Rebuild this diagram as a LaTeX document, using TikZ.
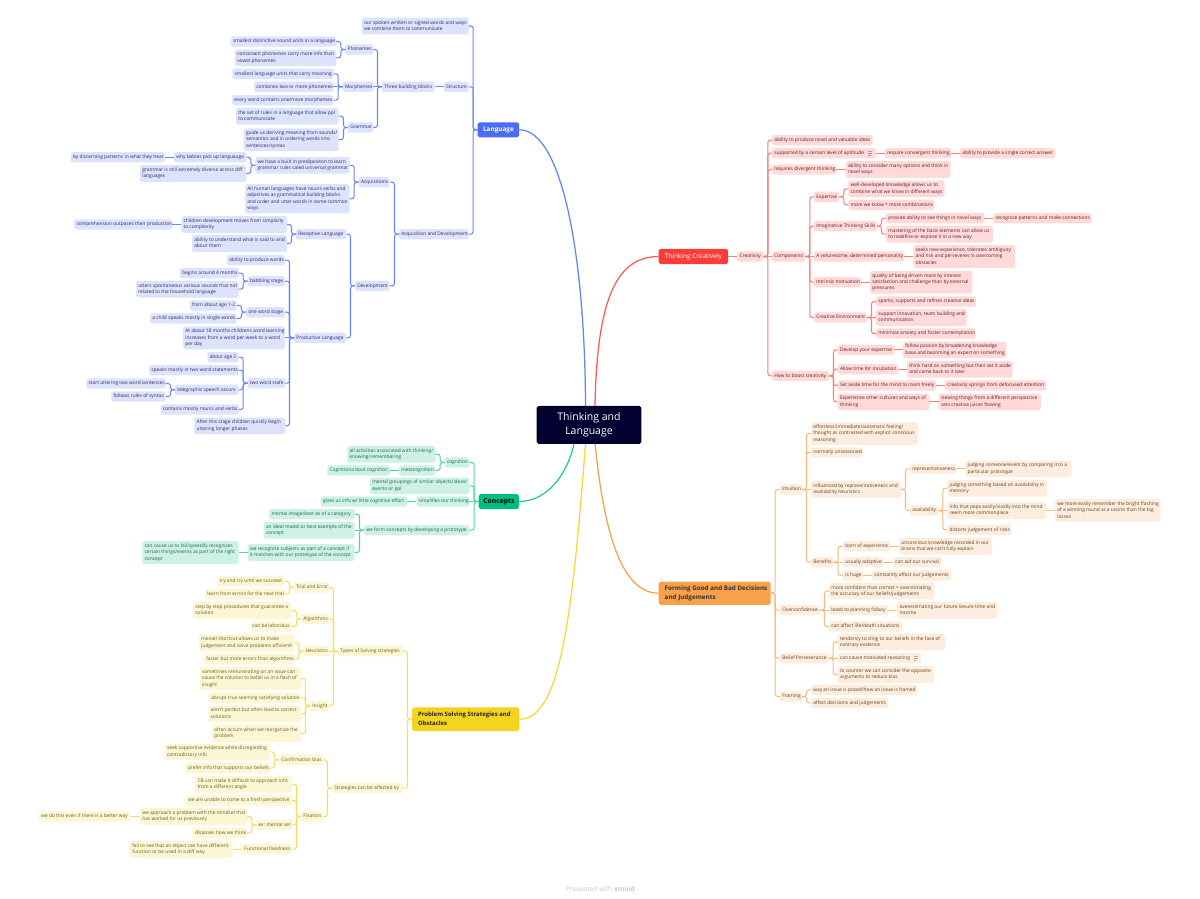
\documentclass[tikz,border=0pt]{standalone}
\usepackage{fontspec}
\setmainfont{Open Sans}
\definecolor{bL}{HTML}{DEE3FC}\definecolor{bT}{HTML}{262A6E}\definecolor{bC}{HTML}{6A86FF}\definecolor{bF}{HTML}{4A6CF7}
\definecolor{rL}{HTML}{FFDAD8}\definecolor{rT}{HTML}{661A1E}\definecolor{rC}{HTML}{FF7B76}\definecolor{rF}{HTML}{FB3D3A}
\definecolor{oL}{HTML}{FDEDDF}\definecolor{oT}{HTML}{63401E}\definecolor{oC}{HTML}{F9BA7C}\definecolor{oF}{HTML}{F8A14B}
\definecolor{yL}{HTML}{FCF6D5}\definecolor{yT}{HTML}{685E1E}\definecolor{yC}{HTML}{F8DC5C}\definecolor{yF}{HTML}{F5D41F}
\definecolor{gL}{HTML}{CDF1E5}\definecolor{gT}{HTML}{1A654E}\definecolor{gC}{HTML}{4FD4A8}\definecolor{gF}{HTML}{00BE7F}
\definecolor{rootF}{HTML}{02002E}
\newdimen\lkA \newdimen\lkB
\newcommand{\setbranch}[1]{\colorlet{cL}{#1L}\colorlet{cT}{#1T}\colorlet{cC}{#1C}}
\newcommand{\mnode}[5]{\node[leaf,anchor=west,minimum width={#3pt-#2pt}] (#1) at (#2,#4)
 {\makebox[\dimexpr #3pt-#2pt-4.6pt\relax][l]{\begin{tabular}{@{}l@{}}#5\end{tabular}}};}
\newcommand{\linkL}[2]{\foreach \cc in {#2}{%
  \pgfextracty{\lkA}{\pgfpointanchor{#1}{west}}\pgfextracty{\lkB}{\pgfpointanchor{\cc}{east}}%
  \advance\lkA by -\lkB
  \ifdim\lkA<0pt \lkA=-\lkA\fi
  \ifdim\lkA<0.5pt \draw[link] (#1.west) -- (\cc.east);\else \draw[link,toL] (#1.west) to (\cc.east);\fi}}
\newcommand{\linkR}[2]{\foreach \cc in {#2}{%
  \pgfextracty{\lkA}{\pgfpointanchor{#1}{east}}\pgfextracty{\lkB}{\pgfpointanchor{\cc}{west}}%
  \advance\lkA by -\lkB
  \ifdim\lkA<0pt \lkA=-\lkA\fi
  \ifdim\lkA<0.5pt \draw[link] (#1.east) -- (\cc.west);\else \draw[link,toR] (#1.east) to (\cc.west);\fi}}
\newcommand{\noteicon}[3]{\draw[#3,line width=.35pt] (#1-2,#2-1.6) -- ++(4,0) (#1-2,#2) -- ++(4,0) (#1-2,#2+1.6) -- ++(2.4,0);}
\tikzset{
 leaf/.style={fill=cL,text=cT,rounded corners=1.8pt,inner xsep=2.3pt,inner ysep=2pt,font=\fontsize{4.85}{6.3}\selectfont,outer sep=0pt},
 link/.style={draw=cC,line width=1.05pt,rounded corners=2.5pt},
 toL/.style={to path={-- ++(-4.5,0) |- (\tikztotarget)}},
 toR/.style={to path={-- ++(4.5,0) |- (\tikztotarget)}},
 main/.style={rounded corners=1.8pt,outer sep=0pt,inner sep=0pt,anchor=west},
 curve/.style={line width=1.25pt},
}
\begin{document}
\begin{tikzpicture}[x=1pt,y=-1pt]
\useasboundingbox (0,-0.5) rectangle (1200,897.5);
% root
\node[main,anchor=center,fill=rootF,text=white,minimum width=104.6pt,minimum height=38pt,align=center,font=\fontsize{10.5}{14}\selectfont] (root) at (589,424.3) {Thinking and\\Language};
\coordinate (rootb) at (585.5,405.3);
\coordinate (rootr) at (595,405.3);
\coordinate (rootg) at (574,443.3);
\coordinate (rooty) at (585.5,443.3);
\coordinate (rooto) at (595,443.3);
% main topics
\node[main,fill=bF,text=white,minimum width=41.5pt,minimum height=15pt,font=\fontsize{6.4}{8}\bfseries\selectfont] (lang) at (477.7,129.3) {\makebox[41.5pt]{Language}};
\node[main,fill=rF,text=white,minimum width=69.3pt,minimum height=15.4pt,font=\fontsize{6.5}{8}\selectfont] (think) at (658.7,256) {\makebox[69.3pt]{Thinking Creatively}};
\node[main,fill=gF,text=black,minimum width=40.3pt,minimum height=15pt,font=\fontsize{6.8}{8}\bfseries\selectfont] (conc) at (478.7,501) {\makebox[40.3pt]{Concepts}};
\node[main,fill=yF,text=black!85,minimum width=107.3pt,minimum height=23.7pt,font=\fontsize{6}{8.3}\selectfont\bfseries,align=left] (prob) at (412,718.8) {\makebox[107.3pt][l]{\hspace{6pt}\begin{tabular}{@{}l@{}}Problem Solving Strategies and\\Obstacles\end{tabular}}};
\node[main,fill=oF,text=black!80,minimum width=112pt,minimum height=23.3pt,font=\fontsize{6.3}{8.3}\selectfont\bfseries,align=left] (form) at (658.7,592.7) {\makebox[112pt][l]{\hspace{6pt}\begin{tabular}{@{}l@{}}Forming Good and Bad Decisions\\and Judgements\end{tabular}}};
% curves
\draw[curve,draw=bC!85!bF] (lang.east) .. controls (562,129) and (585,255) .. (rootb);
\draw[curve,draw=rF!85] (think.west) .. controls (618,256) and (597,295) .. (rootr);
\draw[curve,draw=gF!85] (conc.east) .. controls (548,501) and (568,472) .. (rootg);
\draw[curve,draw=yF!90] (prob.east) .. controls (560,719) and (572,620) .. (rooty);
\draw[curve,draw=oF] (form.west) .. controls (618,592.7) and (603,520) .. (rooto);
% ---------- Language
\setbranch{b}
\mnode{spoken}{361.7}{468.7}{25.5}{our spoken written or signed words and ways\\we combine them to communicate}
\mnode{struct}{443.7}{468.7}{86.3}{Structure}
\mnode{three}{382}{434.7}{86.3}{Three building blocks}
\mnode{phon}{345.3}{373.3}{49}{Phonemes}
\mnode{morph}{342.7}{373.3}{86.3}{Morphemes}
\mnode{gram}{348}{373.3}{127}{Grammar}
\mnode{phA}{230.7}{336}{41}{smallest distinctive sound units in a language}
\mnode{phB}{235}{336}{57.3}{consonant phonemes carry more info than\\vowel phonemes}
\mnode{moA}{232.3}{333.3}{73.3}{smallest language units that carry meaning}
\mnode{moB}{254}{333.3}{86.3}{combines two or more phonemes}
\mnode{moC}{232}{333.3}{99.7}{every word contains one/more morphemes}
\mnode{grA}{236}{338.7}{115.7}{the set of rules in a language that allow ppl\\to communicate}
\mnode{grB}{243.7}{338.7}{139.2}{guide us deriving meaning from sounds/\\semantics and in ordering words into\\sentences/syntax}
\mnode{discern}{70.7}{164.7}{156.7}{by discerning patterns in what they hear}
\mnode{babies}{174}{246.3}{156.7}{why babies pick up languauge}
\mnode{diverse}{140}{246.3}{173}{grammar is still extremely diverse across diff\\languages}
\mnode{built}{255.3}{349.7}{164.8}{we have a built in predipositon to learn\\grammar rules caled universal grammar}
\mnode{human}{245}{349.7}{198.3}{All human languages have nouns verbs and\\adjectives as grammatical building blocks\\and order and utter words in some common\\ways}
\mnode{acqs}{358.7}{389.3}{181.7}{Acquisitions}
\mnode{acqdev}{399}{468.7}{233.7}{Acquisition and Development}
\mnode{compr}{74.3}{172.3}{224}{comprehension outpaces their production}
\mnode{simpl}{181.3}{287}{224}{children development moves from simplicity\\to complexity}
\mnode{recep}{296}{346.3}{233.7}{Receptive Language}
\mnode{under}{192}{287}{243}{ability to understand what is said to and\\about them}
\mnode{dev}{355}{389.3}{285.3}{Development}
\mnode{prod}{294}{346.3}{337.3}{Productive Language}
\mnode{abil}{227}{285}{259.7}{ability to produce words}
\mnode{babb}{247.7}{285}{280.7}{babbling stage}
\mnode{begin}{180}{238.7}{272.7}{begins around 4 months}
\mnode{utter}{136}{238.7}{288.7}{utters spontaneous various sounds that not\\related to the household language}
\mnode{onew}{246}{285}{311.7}{one word stage}
\mnode{from}{189.7}{236.7}{305}{from about age 1-2}
\mnode{achild}{150}{236.7}{318}{a child speaks mostly in single words}
\mnode{eight}{183}{285}{337.3}{At about 18 months childrens word learning\\increases from a word per week to a word\\per day}
\mnode{twow}{247.7}{285}{382.7}{two word stafe}
\mnode{age}{207.3}{238.7}{356.7}{about age 2}
\mnode{speak}{149}{238.7}{369.7}{speaks mostly in two word statements}
\mnode{tele}{175}{238.7}{389.3}{telegraphic speech occurs}
\mnode{start}{86.3}{165.7}{383}{start uttering two word sentences}
\mnode{follow}{111.3}{165.7}{396}{follows rules of syntax}
\mnode{nouns}{160.7}{238.7}{409}{contains mostly nouns and verbs}
\mnode{after}{194.3}{285}{425.3}{After this stage children quickly begin\\uttering longer phases}
\linkL{lang}{spoken,struct,acqdev}
\linkL{struct}{three}
\linkL{three}{phon,morph,gram}
\linkL{phon}{phA,phB}
\linkL{morph}{moA,moB,moC}
\linkL{gram}{grA,grB}
\linkL{acqdev}{acqs,dev}
\linkL{acqs}{built,human}
\linkL{built}{babies,diverse}
\linkL{babies}{discern}
\linkL{dev}{recep,prod}
\linkL{recep}{simpl,under}
\linkL{simpl}{compr}
\linkL{prod}{abil,babb,onew,eight,twow,after}
\linkL{babb}{begin,utter}
\linkL{onew}{from,achild}
\linkL{twow}{age,speak,tele,nouns}
\linkL{tele}{start,follow}
% ---------- Concepts
\setbranch{g}
\mnode{cogn}{444.7}{469.3}{462}{cognition}
\mnode{allact}{347.3}{435.3}{453.8}{all activities associated with thinking/\\knowing/remembering}
\mnode{meta}{399}{435.3}{470}{metacognition}
\mnode{bout}{327.3}{390}{470}{Cognitiona bout cognition}
\mnode{mental}{370}{469.3}{485.3}{mental groupings of similar objects/ideas/\\events or ppl}
\mnode{simp}{416.3}{469.3}{501}{simplifies our thinking}
\mnode{gives}{320.7}{407}{501}{gives us info w/ little cognitive effort}
\mnode{proto}{364}{469.3}{529.7}{we form concepts by developing a prototype}
\mnode{image}{269.3}{354.7}{513.7}{mental image/best ex of a category}
\mnode{ideal}{263.7}{354.7}{529.7}{an ideal model or best example of the\\concept}
\mnode{recog}{247.7}{354.7}{552}{we recognize subjects as part of a concept if\\it matches with our prototype of the concept}
\mnode{fail}{142.3}{238.7}{552}{can cause us to fail/speedily recognizes\\certain things/events as part of the right\\concept}
\linkL{conc}{cogn,mental,simp,proto}
\linkL{cogn}{allact,meta}
\linkL{meta}{bout}
\linkL{simp}{gives}
\linkL{proto}{image,ideal,recog}
\linkL{recog}{fail}
% ---------- Problem solving
\setbranch{y}
\mnode{types}{338}{403}{650.7}{Types of Solving strategies}
\mnode{trial}{293.7}{329}{587}{Trial and Error}
\mnode{tryA}{217.3}{284.3}{580.7}{try and try until we succeed}
\mnode{tryB}{205}{284.3}{593.7}{learn from errors for the next trial}
\mnode{algo}{301}{329}{618.3}{Algorithms}
\mnode{alA}{193}{291.7}{610}{step by step procedures that guarantee a\\solution}
\mnode{alB}{250}{291.7}{626}{can be laborious}
\mnode{heur}{303.3}{329}{650.7}{Heuristics}
\mnode{heA}{199}{294.3}{642.3}{menatl shortcut-allows us to make\\judgement and solve problems efficienlt}
\mnode{heB}{204}{294.3}{658.7}{faster but more errors than algorithms}
\mnode{insi}{310}{329}{705.3}{Insight}
\mnode{inA}{199.7}{301}{678}{sometimes remunerating on an issue can\\cause the solution to befall us in a flash of\\insight}
\mnode{inB}{209}{301}{697.3}{abrupt true seeming satisfying solution}
\mnode{inC}{208.3}{301}{713.3}{aren't perfect but often lead to correct\\solutions}
\mnode{inD}{212}{301}{733}{often occurs when we reorganize the\\problem}
\mnode{strat}{332}{403}{787.7}{Strategies can be affected by}
\mnode{conf}{279}{323}{759.3}{Confirmation bias}
\mnode{coA}{164.7}{270}{751.3}{seek supportive evidence while disregarding\\contradictory info}
\mnode{coB}{185.7}{270}{767.7}{prefer info that supports our beliefs}
\mnode{fixa}{301}{323}{816}{Fixation}
\mnode{fiA}{195.3}{292}{783.7}{CB can make it difficult to approach info\\from a different angle}
\mnode{fiB}{185.7}{292}{800}{we are unable to come to a fresh perspective}
\mnode{exm}{256.3}{292}{824.3}{ex: mental set}
\mnode{exA}{140}{247}{816}{we approach a problem with the mindset that\\has worked for us previously}
\mnode{exB}{39}{130.7}{816}{we do this even if there is a better way}
\mnode{exC}{192.7}{247}{832.3}{disposes how we think}
\mnode{func}{242}{292}{848.7}{Functional fixedness}
\mnode{fuA}{130}{232.7}{848.7}{fail to see that an object can have different\\function or be used in a diff way}
\linkL{prob}{types,strat}
\linkL{types}{trial,algo,heur,insi}
\linkL{trial}{tryA,tryB}
\linkL{algo}{alA,alB}
\linkL{heur}{heA,heB}
\linkL{insi}{inA,inB,inC,inD}
\linkL{strat}{conf,fixa}
\linkL{conf}{coA,coB}
\linkL{fixa}{fiA,fiB,exm,func}
\linkL{exm}{exA,exC}
\linkL{exA}{exB}
\linkL{func}{fuA}
% ---------- Thinking Creatively
\setbranch{r}
\mnode{crea}{737.3}{763.3}{256}{Creativity}
\mnode{novel}{772}{872.7}{139.7}{ability to produce novel and valuable ideas}
\mnode{supp}{772}{876}{152.7}{supported by a certain level of aptitiude}
\noteicon{870.3}{152.7}{rT!45}
\mnode{conv}{885}{951}{152.7}{require convergent thinking}
\mnode{single}{960}{1055.3}{152.7}{ability to provide a single correct answer}
\mnode{diver}{772}{836.3}{169}{requires divergent thinking}
\mnode{many}{845.7}{950.7}{169}{ability to consider many options and think in\\novel ways}
\mnode{comp}{772}{805.3}{256}{Components}
\mnode{expe}{814}{839.3}{196.3}{Expertise}
\mnode{wellk}{848.3}{944.7}{188.3}{well-developed knowledge allows us to\\combine what we know in different ways}
\mnode{moreK}{848.3}{934.3}{204.3}{more we know = more combinations}
\mnode{imag}{814}{877}{225.7}{Imaginative Thinking Skills}
\mnode{prov}{886}{984.3}{217.7}{provide ability to see things in novel ways}
\mnode{patt}{993.3}{1091.7}{217.7}{recognize patterns and make connections}
\mnode{mast}{886}{993}{233.7}{mastering of the basic elements can allow us\\to redefine or explore it in a new way}
\mnode{vent}{814}{904.3}{256}{A veturesome, determined personality}
\mnode{seek}{913.3}{1015}{256}{seeks new experience, tolerates ambiguity\\and risk and perseveres in overcoming\\obstacles}
\mnode{intr}{814}{861}{281.7}{Intrinsic motivation}
\mnode{qual}{870}{972.3}{281.7}{quality of being driven more by interest\\satisfaction and challenge than by external\\pressures}
\mnode{envi}{814}{867}{317}{Creative Environment}
\mnode{spark}{876}{976}{301}{sparks, supports and refines creative ideas}
\mnode{innov}{876}{966.7}{317}{support innovation, team building and\\communication}
\mnode{minim}{876}{975.7}{333}{minimize anxiety and foster contemplation}
\mnode{boost}{772}{829}{375.3}{How to boost creativity}
\mnode{devel}{837.7}{894}{349.3}{Develop your expertise}
\mnode{passi}{903}{1006.3}{349.3}{follow passion by broadening knowledge\\base and becoming an expert on something}
\mnode{allow}{837.7}{898}{368.7}{Allow time for incubation}
\mnode{hard}{907}{1012.7}{368.7}{think hard on something but then set it aside\\and come back to it later}
\mnode{aside}{837.7}{936}{385}{Set aside time for the mind to roam freely}
\mnode{defoc}{945}{1046}{385}{creativity springs from defocused attention}
\mnode{exper}{837.7}{929.3}{401.3}{Experience other cultures and ways of\\thinking}
\mnode{viewi}{938.7}{1041}{401.3}{viewing things from a different perspective\\sets creative juices flowing}
\linkR{think}{crea}
\linkR{crea}{novel,supp,diver,comp,boost}
\linkR{supp}{conv}
\linkR{conv}{single}
\linkR{diver}{many}
\linkR{comp}{expe,imag,vent,intr,envi}
\linkR{expe}{wellk,moreK}
\linkR{imag}{prov,mast}
\linkR{prov}{patt}
\linkR{vent}{seek}
\linkR{intr}{qual}
\linkR{envi}{spark,innov,minim}
\linkR{boost}{devel,allow,aside,exper}
\linkR{devel}{passi}
\linkR{allow}{hard}
\linkR{aside}{defoc}
\linkR{exper}{viewi}
% ---------- Forming
\setbranch{o}
\mnode{intu}{779.7}{802}{489}{Intuition}
\mnode{effo}{811}{918}{433}{effortless/immediate/automatic feeling/\\thought as contrasted with explicit conscious\\reasoning}
\mnode{unre}{811}{862.3}{452}{normally unreasoned}
\mnode{infl}{811}{901}{489}{influenced by representativeness and\\availability heuristics}
\mnode{repr}{910}{956.3}{468.3}{representativeness}
\mnode{judA}{965.3}{1071.7}{468.3}{judging someone/event by comparing it to a\\particular prototype}
\mnode{avai}{910}{938.3}{510}{availability}
\mnode{judB}{947.3}{1047}{487.7}{judging something based on availability in\\memory}
\mnode{pops}{947.3}{1046}{510}{info that pops easily/vividly into the mind\\seem more commonplace}
\mnode{casi}{1055}{1160.7}{510}{we more easily remember the bright flashing\\of a winning round at a casino than the big\\losses}
\mnode{dist}{947.3}{1011}{529.3}{distorts judgement of risks}
\mnode{bene}{811}{833.7}{561.7}{Benefits}
\mnode{born}{843}{890}{545.7}{born of experience}
\mnode{unco}{899}{992}{545.7}{unconcious knowledge recorded in our\\brains that we can't fully explain}
\mnode{adap}{843}{883.7}{561.7}{usually adaptive}
\mnode{aid}{893}{941}{561.7}{can aid our survival}
\mnode{huge}{843}{862.7}{575}{is huge}
\mnode{cons}{872}{951}{575}{constantly affect our judgements}
\mnode{over}{780}{820}{609.7}{Overconfidence}
\mnode{ovA}{829}{934.3}{590.5}{more confident than correct = overstimating\\the accuracy of our beliefs/judgements}
\mnode{ovB}{829}{888.3}{609.7}{leads to planning fallacy}
\mnode{ovC}{897.3}{997.3}{609.7}{overestimating our future liesure time and\\income}
\mnode{ovD}{829}{902}{626}{can affect life/death situations}
\mnode{beli}{780}{828.7}{657.7}{Belief Perseverance}
\mnode{beA}{837.7}{945.3}{641.5}{tendency to cling to our beliefs in the face of\\contrary evidence}
\mnode{beB}{837.7}{921}{657.7}{can cause motivated reasoning}
\noteicon{916}{657.7}{oT!45}
\mnode{beC}{837.7}{934}{674}{to counter we can consider the opposite\\arguments to reduce bias}
\mnode{fram}{780}{802}{696}{Framing}
\mnode{frA}{811}{917.7}{689.3}{way an issue is posed/how an issue is framed}
\mnode{frB}{811}{888.7}{702.3}{affect decisions and judgements}
\linkR{form}{intu,over,beli,fram}
\linkR{intu}{effo,unre,infl,bene}
\linkR{infl}{repr,avai}
\linkR{repr}{judA}
\linkR{avai}{judB,pops,dist}
\linkR{pops}{casi}
\linkR{bene}{born,adap,huge}
\linkR{born}{unco}
\linkR{adap}{aid}
\linkR{huge}{cons}
\linkR{over}{ovA,ovB,ovD}
\linkR{ovB}{ovC}
\linkR{beli}{beA,beB,beC}
\linkR{fram}{frA,frB}
% watermark
\node[font=\fontsize{6.6}{8}\selectfont,text=black!22,inner sep=0pt] (mark) at (600.5,889) {Presented with \textbf{xmind}};
\end{tikzpicture}
\end{document}
